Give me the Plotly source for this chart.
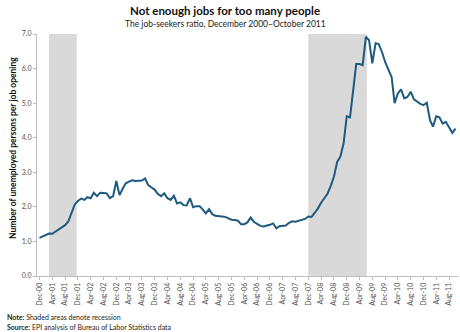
import pandas as pd
import plotly.graph_objects as go

# Monthly job-seekers ratio, Dec 2000 - Oct 2011
start_month = "2000-12-01"
ratio = [
    1.10, 1.15, 1.20, 1.23, 1.22, 1.28, 1.35, 1.40, 1.47, 1.58, 1.85, 2.07,   # Dec00-Nov01
    2.17, 2.24, 2.20, 2.28, 2.25, 2.41, 2.31, 2.41, 2.40, 2.39, 2.25, 2.31,   # Dec01-Nov02
    2.75, 2.34, 2.53, 2.68, 2.73, 2.77, 2.75, 2.75, 2.76, 2.82, 2.63, 2.56,   # Dec02-Nov03
    2.50, 2.37, 2.31, 2.39, 2.25, 2.20, 2.32, 2.10, 2.13, 2.05, 2.04, 2.25,   # Dec03-Nov04
    1.99, 2.02, 2.02, 1.93, 1.81, 1.93, 1.79, 1.74, 1.74, 1.72, 1.71, 1.66,   # Dec04-Nov05
    1.63, 1.62, 1.60, 1.50, 1.50, 1.55, 1.69, 1.57, 1.50, 1.45, 1.43, 1.45,   # Dec05-Nov06
    1.48, 1.52, 1.38, 1.44, 1.45, 1.46, 1.54, 1.58, 1.57, 1.60, 1.62, 1.65,   # Dec06-Nov07
    1.72, 1.71, 1.83, 1.95, 2.12, 2.25, 2.38, 2.60, 2.87, 3.30, 3.45, 3.84,   # Dec07-Nov08
    4.62, 4.59, 5.40, 6.13, 6.13, 6.10, 6.92, 6.82, 6.15, 6.73, 6.71, 6.48,   # Dec08-Nov09
    6.19, 5.95, 5.75, 5.00, 5.28, 5.40, 5.14, 5.18, 5.33, 5.11, 5.04, 4.98,   # Dec09-Nov10
    4.94, 5.01, 4.51, 4.32, 4.62, 4.59, 4.41, 4.46, 4.30, 4.14, 4.26,         # Dec10-Oct11
]
months = pd.date_range(start_month, periods=len(ratio), freq="MS")

tick_dates = pd.date_range("2000-12-01", "2011-08-01", freq="4MS")
tick_labels = [d.strftime("%b-%y") for d in tick_dates]

recessions = [("2001-03-01", "2001-11-20"), ("2007-12-01", "2009-06-10")]

title = "Not enough jobs for too many people"
subtitle = "The job-seekers ratio, December 2000\u2013October 2011"
y_title = "Number of unemployed persons per job opening"
note = "<b>Note:</b> Shaded areas denote recession"
source = "<b>Source:</b> EPI analysis of Bureau of Labor Statistics data"

FONT = "Lato"
W, H = 460, 332
L, R, T, B = 37, 2, 34, 56
PW, PH = W - L - R, H - T - B


def px(x):
    return (x - L) / PW


def py(y_from_top):
    return (H - y_from_top - B) / PH


fig = go.Figure()
fig.add_trace(go.Scatter(
    x=months, y=ratio, mode="lines",
    line=dict(color="#1d5a80", width=2),
    hoverinfo="skip", showlegend=False,
))

for x0, x1 in recessions:
    fig.add_shape(type="rect", xref="x", yref="y", x0=x0, x1=x1, y0=0, y1=7,
                  fillcolor="#d9d9d9", line=dict(width=0), layer="below")

annotations = [
    dict(text="<b>" + title + "</b>", x=px(225), y=py(11),
         font=dict(size=11.5, color="#111", family=FONT), xanchor="center"),
    dict(text=subtitle, x=px(225), y=py(24),
         font=dict(size=8.5, color="#222", family=FONT), xanchor="center"),
    dict(text="<b>" + y_title + "</b>", textangle=-90, x=px(13), y=py(148),
         font=dict(size=8.5, color="#111", family=FONT), xanchor="center"),
    dict(text=note, x=px(5), y=py(317),
         font=dict(size=7, color="#222", family=FONT), xanchor="left"),
    dict(text=source, x=px(5), y=py(327),
         font=dict(size=7, color="#222", family=FONT), xanchor="left"),
]
for a in annotations:
    a.update(xref="paper", yref="paper", showarrow=False, yanchor="middle")

fig.update_layout(
    width=W, height=H,
    margin=dict(l=L, r=R, t=T, b=B),
    paper_bgcolor="white", plot_bgcolor="white",
    font=dict(family=FONT, color="#333"),
    annotations=annotations,
)

fig.update_xaxes(
    type="date",
    range=["2000-11-07", "2011-10-25"],
    tickvals=tick_dates, ticktext=tick_labels, tickangle=-90,
    tickfont=dict(size=7, color="#555", family=FONT),
    showline=True, linecolor="#bdbdbd", linewidth=1,
    ticks="outside", ticklen=3, tickcolor="#bdbdbd",
    showgrid=False, zeroline=False,
)
fig.update_yaxes(
    range=[0, 7], tickvals=[0, 1, 2, 3, 4, 5, 6, 7], tickformat=".1f",
    tickfont=dict(size=7, color="#555", family=FONT),
    showline=True, linecolor="#bdbdbd", linewidth=1,
    ticks="outside", ticklen=3, tickcolor="#bdbdbd",
    showgrid=False, zeroline=False,
)

fig.write_html("out.html")
